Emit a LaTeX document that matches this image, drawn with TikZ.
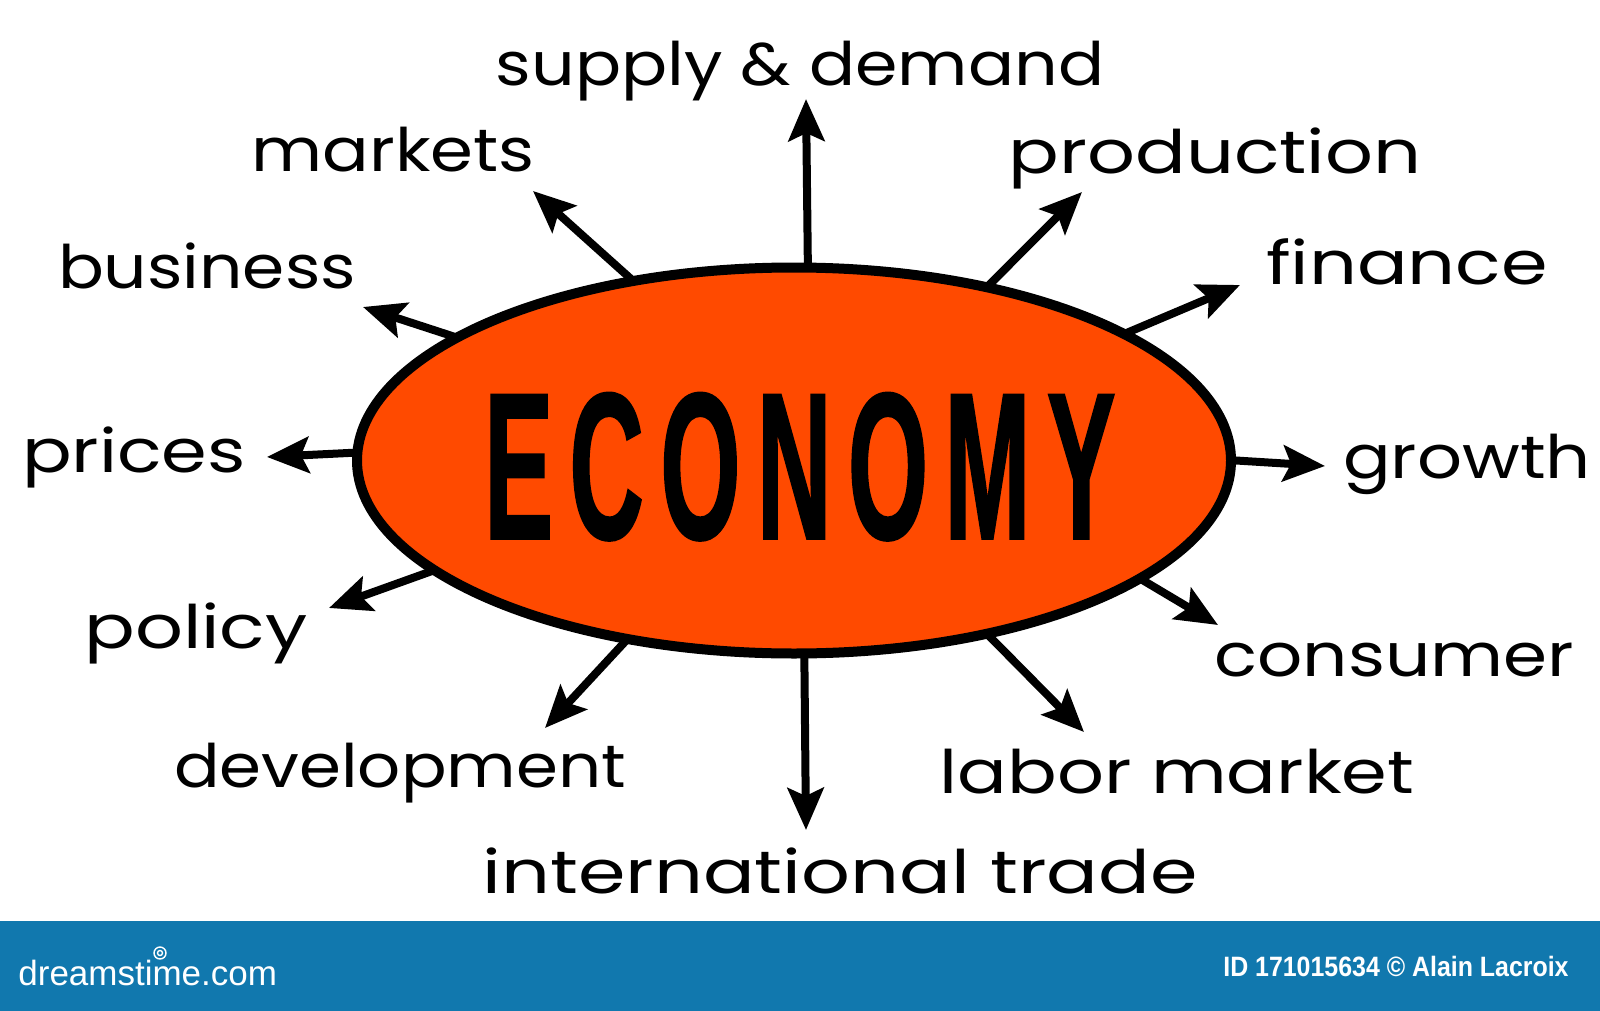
\documentclass[tikz,border=0pt]{standalone}
\usepackage{fontspec}
\usetikzlibrary{arrows.meta,shapes.geometric}
\newfontfamily\handfont[FakeStretch=1.25]{Poppins}
\newfontfamily\econfont[FakeStretch=0.49,FakeBold=0.8]{Liberation Sans}
\newfontfamily\footfont{Liberation Sans}
\newfontfamily\idfont[FakeStretch=0.89]{Liberation Sans}
\newcommand\hsqz[2]{\scalebox{#1}[1]{#2}}
\newcommand\eg{\kern8.3pt}
\definecolor{econorange}{RGB}{255,74,0}
\definecolor{footblue}{RGB}{17,120,174}
\begin{document}
\begin{tikzpicture}[x=0.5pt,y=-0.5pt,
  lbl/.style={font={\handfont\fontsize{30pt}{34pt}\selectfont}, anchor=base, inner sep=0pt},
  arr/.style={line width=4pt, shorten <=-3pt, -{Stealth[length=21pt,width=18pt,inset=4pt]}},
  econshape/.style={draw=black, ellipse, fill=econorange, line width=5pt,
    minimum width=437pt, minimum height=193pt, inner sep=0pt},
]
\useasboundingbox (0,0) rectangle (1600,1011);
\fill[white] (0,0) rectangle (1600,1011);

% central ellipse
\node[econshape] (econ) at (794,460.5) {};
\node[anchor=base, inner sep=0pt, font={\econfont\bfseries\fontsize{105pt}{110pt}\selectfont}] (title) at (800,539) {E\eg C\eg O\eg N\eg O\eg M\eg Y};

% arrow tips
\coordinate (tSupply) at (806,99);
\coordinate (tMarkets) at (533,191);
\coordinate (tProd) at (1082,192);
\coordinate (tBus) at (363,307);
\coordinate (tFin) at (1240,285);
\coordinate (tPrices) at (267,457);
\coordinate (tGrowth) at (1325,466);
\coordinate (tPolicy) at (329,608);
\coordinate (tCons) at (1218,625);
\coordinate (tDev) at (545,728);
\coordinate (tTrade) at (806,830);
\coordinate (tLabor) at (1084,732);

% arrows
\draw[arr] (econ.86.5) -- (tSupply);
\draw[arr] (econ.132.6) -- (tMarkets);
\draw[arr] (econ.42.8) -- (tProd);
\draw[arr] (econ.160) -- (tBus);
\draw[arr] (econ.21) -- (tFin);
\draw[arr] (econ.179.6) -- (tPrices);
\draw[arr] (econ.-0.6) -- (tGrowth);
\draw[arr] (econ.197) -- (tPolicy);
\draw[arr] (econ.-19.6) -- (tCons);
\draw[arr] (econ.227.4) -- (tDev);
\draw[arr] (econ.273.5) -- (tTrade);
\draw[arr] (econ.-42.1) -- (tLabor);

% labels
\node[lbl] (lSupply) at (800,86) {\hsqz{0.91}{supply \& demand}};
\node[lbl] (lMarkets) at (393,171) {\hsqz{0.92}{markets}};
\node[lbl] (lProd) at (1215,173) {production};
\node[lbl] (lBus) at (207,288) {\hsqz{0.905}{business}};
\node[lbl] (lFin) at (1407,284) {finance};
\node[lbl] (lPrices) at (134,472) {\hsqz{0.98}{prices}};
\node[lbl] (lGrowth) at (1467,478) {\hsqz{0.94}{growth}};
\node[lbl] (lPolicy) at (196,648) {policy};
\node[lbl] (lCons) at (1394,676) {\hsqz{0.945}{consumer}};
\node[lbl] (lDev) at (400,787) {\hsqz{0.90}{development}};
\node[lbl] (lLabor) at (1177,793) {\hsqz{0.98}{labor market}};
\node[lbl] (lTrade) at (840,893) {\hsqz{1.02}{international trade}};

% footer
\fill[footblue] (0,921) rectangle (1600,1011);
\node[anchor=base west, inner sep=0pt, text=white, font={\footfont\fontsize{17.5pt}{20pt}\selectfont}] (brand) at (18,985) {dreamstime.com};
\draw[white, line width=0.7pt] (160,953) circle[radius=6];
\draw[white, line width=0.7pt] (160,953) circle[radius=2.5];
\node[anchor=base east, inner sep=0pt, text=white, font={\idfont\bfseries\fontsize{14pt}{16pt}\selectfont}] (credit) at (1569,976) {ID 171015634 © Alain Lacroix};
\end{tikzpicture}
\end{document}
